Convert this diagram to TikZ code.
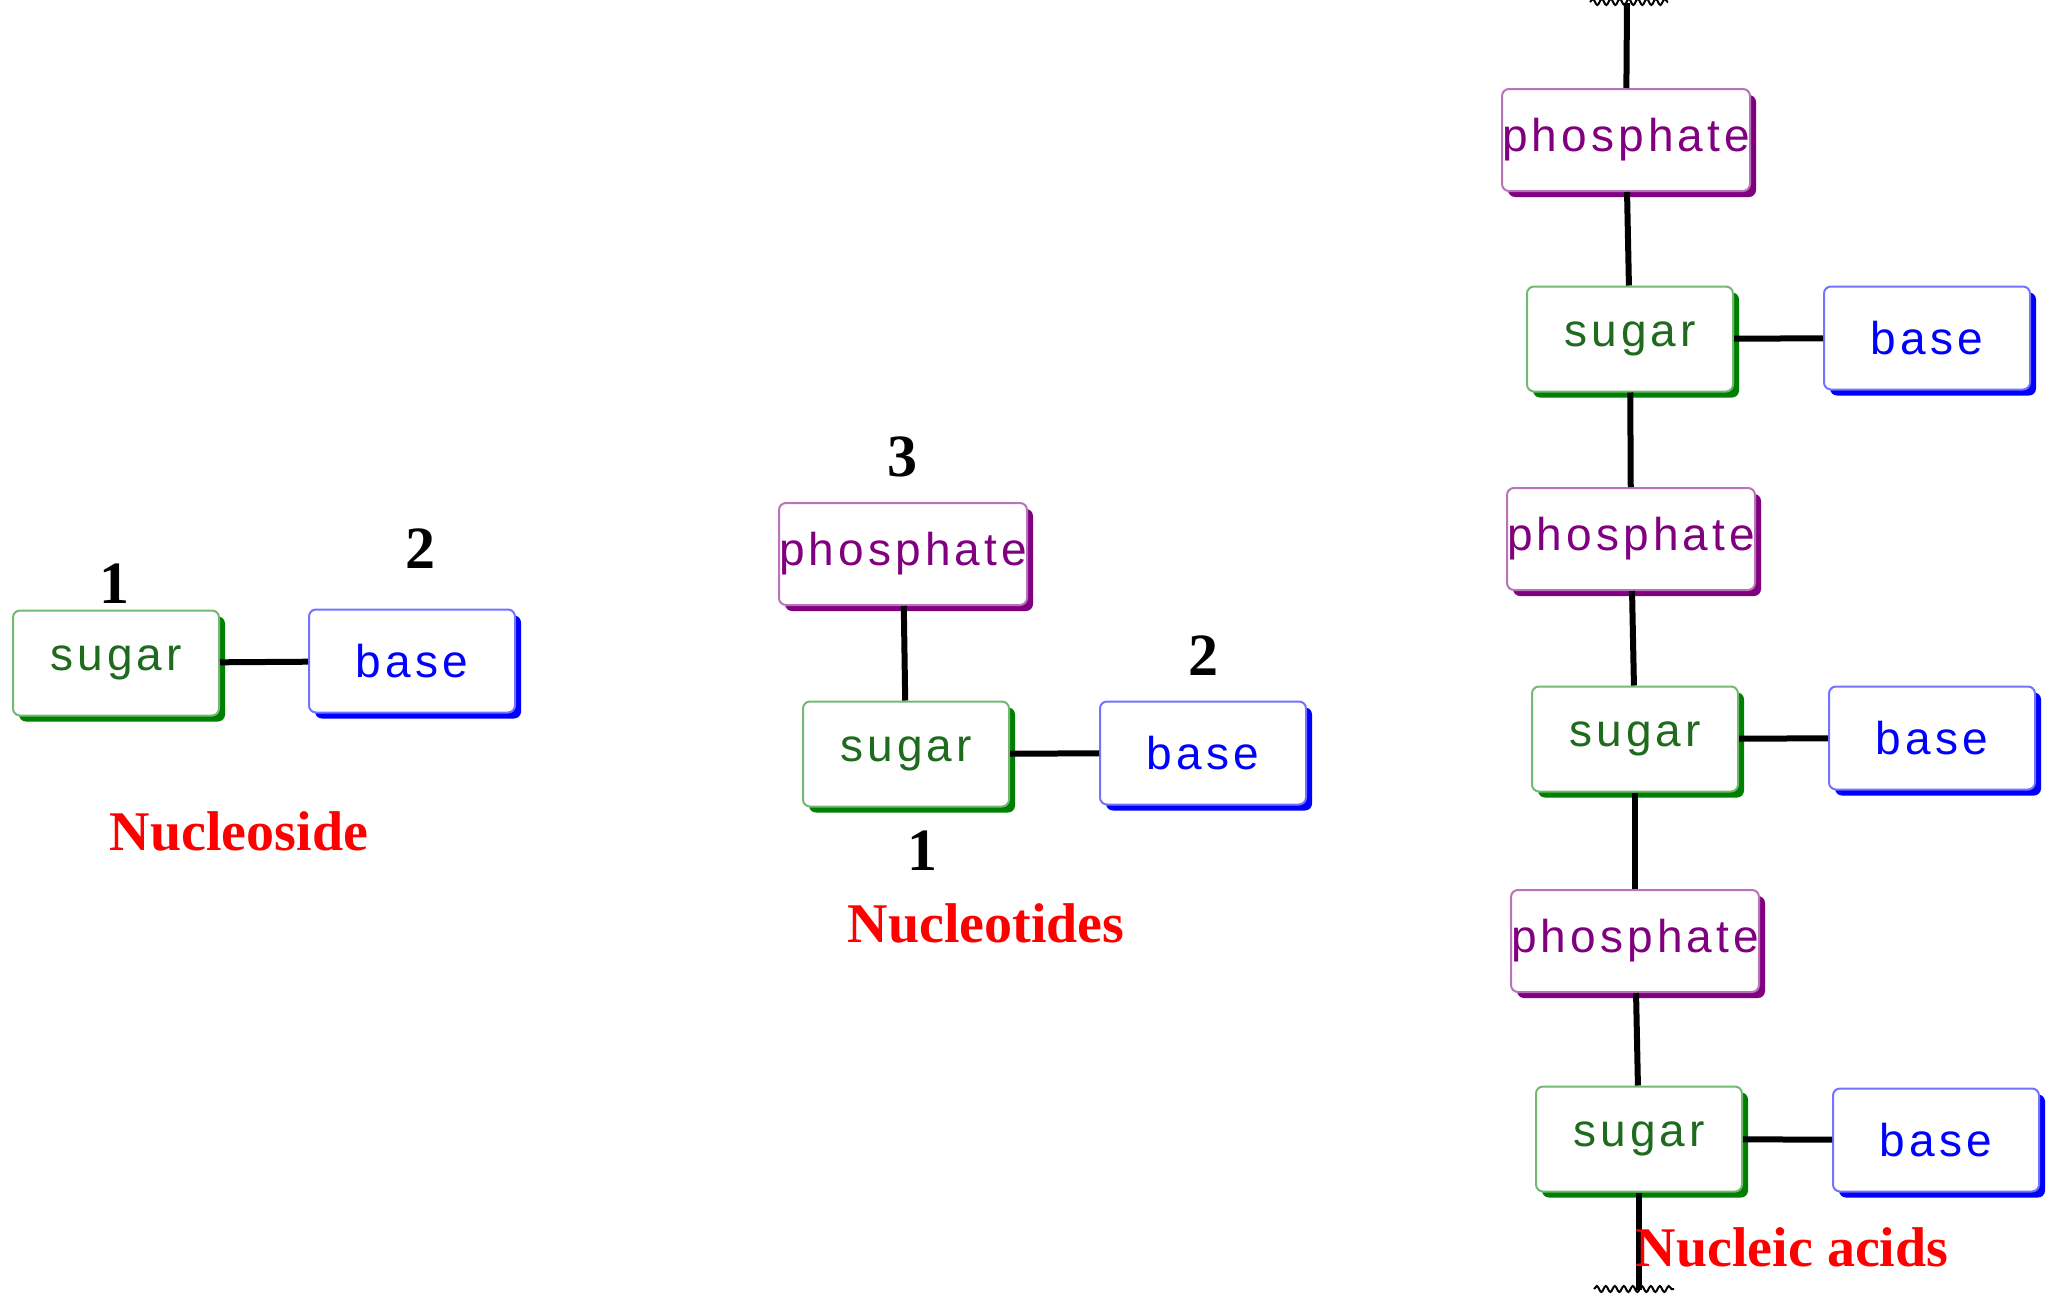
\documentclass[tikz,border=0pt]{standalone}
\usepackage{fontspec}
\setmainfont{Liberation Serif}
\newfontfamily\boxfont[LetterSpace=9]{Liberation Sans}
\usetikzlibrary{shadows,decorations.pathmorphing}
\definecolor{phc}{HTML}{800080}
\definecolor{sgc}{HTML}{008000}
\definecolor{sgt}{HTML}{1E6B1E}
\definecolor{bsc}{HTML}{0000FF}
\tikzset{
 box/.style={rounded corners=7pt, fill=white, line width=2pt, inner sep=0pt,
   font=\boxfont\fontsize{46}{50}\selectfont},
 pbox/.style={box, draw=phc!55, text=phc, minimum width=238pt, minimum height=102pt,
   drop shadow={shadow xshift=6pt, shadow yshift=-6pt, fill=phc, opacity=1}},
 sbox/.style={box, draw=sgc!55, text=sgt, minimum width=206pt, minimum height=105pt,
   drop shadow={shadow xshift=6pt, shadow yshift=-6pt, fill=sgc, opacity=1}},
 bbox/.style={box, draw=bsc!55, text=bsc, minimum width=206pt, minimum height=103pt,
   drop shadow={shadow xshift=6pt, shadow yshift=-6pt, fill=bsc, opacity=1}},
 link/.style={line width=6pt, black},
 num/.style={font=\bfseries\fontsize{60}{60}\selectfont},
 title/.style={text=red, font=\bfseries\fontsize{56}{60}\selectfont},
 wavy/.style={line width=2pt, decorate, decoration={snake, amplitude=3pt, segment length=9pt}}
}
\begin{document}
\begin{tikzpicture}[x=1pt,y=-1pt]
\useasboundingbox[fill=white] (0,0) rectangle (2048,1304);
% Nucleoside
\node[sbox] (s0) at (116,663) {sugar};
\node[bbox] (b0) at (412,661) {base};
\draw[link] (s0) -- (b0);
\node[num] (n01) at (114,584) {1};
\node[num] (n02) at (420,549) {2};
\node[title] (t0) at (239,831) {Nucleoside};
% Nucleotides
\node[pbox] (p1) at (903,554) {phosphate};
\node[sbox] (s1) at (906,754) {sugar};
\node[bbox] (b1) at (1203,753) {base};
\draw[link] (p1) -- (s1);
\draw[link] (s1) -- (b1);
\node[num] (n13) at (902,457) {3};
\node[num] (n12) at (1203,656) {2};
\node[num] (n11) at (922,851) {1};
\node[title] (t1) at (986,923) {Nucleotides};
% Nucleic acids
\node[pbox] (pa) at (1626,140) {phosphate};
\node[sbox] (sa) at (1630,339) {sugar};
\node[bbox] (ba) at (1927,338) {base};
\node[pbox] (pb) at (1631,539) {phosphate};
\node[sbox] (sb) at (1635,739) {sugar};
\node[bbox] (bb) at (1932,738) {base};
\node[pbox] (pc) at (1635,941) {phosphate};
\node[sbox] (sc) at (1639,1139) {sugar};
\node[bbox] (bc) at (1936,1140) {base};
\coordinate (top) at (1627,3);
\coordinate (bot) at (1639,1290);
\draw[wavy] (1590,2) -- (1668,2);
\draw[wavy] (1594,1289) -- (1674,1289);
\draw[link] (top) -- (pa);
\draw[link] (pa) -- (sa);
\draw[link] (sa) -- (pb);
\draw[link] (pb) -- (sb);
\draw[link] (sb) -- (pc);
\draw[link] (pc) -- (sc);
\draw[link] (sa) -- (ba);
\draw[link] (sb) -- (bb);
\draw[link] (sc) -- (bc);
\draw[link] (sc) -- (bot);
\node[title] (t2) at (1792,1247) {Nucleic acids};
\end{tikzpicture}
\end{document}
